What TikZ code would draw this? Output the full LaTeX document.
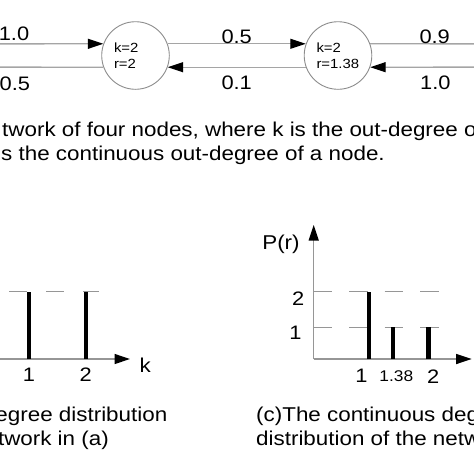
\documentclass[tikz,border=0pt]{standalone}
\usepackage{fontspec}
\setmainfont{Liberation Sans}[FakeStretch=1.12]
\usetikzlibrary{arrows.meta}
\definecolor{edgegray}{RGB}{165,165,165}
\definecolor{circgray}{RGB}{140,140,140}
\definecolor{axisgray}{RGB}{150,150,150}

\begin{document}
\begin{tikzpicture}[x=1pt, y=-1pt,
    tip/.style={-{Triangle[length=15.5pt,width=10pt,color=black]}},
    link/.style={draw=edgegray, line width=1.3pt},
    vertex/.style={circle, draw=circgray, line width=0.9pt, minimum size=67.6pt,
      inner sep=0pt, align=left, text width=43pt, font=\fontsize{13.3}{15.7}\selectfont},
    lbl/.style={inner sep=0pt, font=\fontsize{19.5}{23}\selectfont},
    captext/.style={inner sep=0pt, font=\fontsize{20}{24}\selectfont},
    axis/.style={draw=axisgray, line width=1.3pt},
    bar/.style={draw=black, line width=4.3pt},
    level/.style={draw=axisgray, line width=1.3pt}]
  \useasboundingbox (0,0) rectangle (474,474);

  % (a) the network: two inner nodes, outer nodes lie off the page
  \node[vertex] (n2) at (135.5,55.5) {k=2\\r=2};
  \node[vertex] (n3) at (338,55.5) {k=2\\r=1.38};
  \coordinate (w1) at (-5,43.9);
  \coordinate (w2) at (-5,67.1);
  \coordinate (e1) at (480,43.9);
  \coordinate (e2) at (480,67.1);
  \draw[link, tip] (w1) -- (n2.160);
  \draw[link] (n2.200) -- (w2);
  \draw[link, tip] (n2.20) -- (n3.160);
  \draw[link, tip] (n3.200) -- (n2.340);
  \draw[link] (n3.20) -- (e1);
  \draw[link, tip] (e2) -- (n3.340);
  % weights
  \node[lbl, anchor=base east] (w12) at (29.4,40.7) {1.0};
  \node[lbl, anchor=base east] (w21) at (30.2,90) {0.5};
  \node[lbl, anchor=base] (w23) at (236.7,43.3) {0.5};
  \node[lbl, anchor=base] (w32) at (236.7,89.3) {0.1};
  \node[lbl, anchor=base] (w34) at (434.7,43.3) {0.9};
  \node[lbl, anchor=base] (w43) at (435.3,89.3) {1.0};
  % caption (a)
  \node[captext, anchor=base west] (capa1) at (2,136) {twork of four nodes, where k is the out-degree o};
  \node[captext, anchor=base west] (capa2) at (1,160.7) {s the continuous out-degree of a node.};

  % (b) degree distribution
  \draw[axis, tip] (-5,359) -- (130,359);
  \draw[level, dash pattern=on 18pt off 19pt] (-28,291.7) -- (99,291.7);
  \draw[bar] (29,359) -- (29,291.7);
  \draw[bar] (85.7,359) -- (85.7,291.7);
  \node[lbl, anchor=base] (kb1) at (29,381.7) {1};
  \node[lbl, anchor=base] (kb2) at (85.7,381.7) {2};
  \node[captext, anchor=base] (kx) at (145.3,372.7) {k};
  \node[captext, anchor=base east] (capb1) at (167.5,421.5) {egree distribution};
  \node[captext, anchor=base east] (capb2) at (109,445) {twork in (a)};

  % (c) continuous degree distribution
  \draw[axis, tip] (313.7,359) -- (313.7,225);
  \draw[axis, tip] (313.7,359) -- (471.7,359);
  \draw[level, dash pattern=on 18.5pt off 17pt] (313.7,291.7) -- (439,291.7);
  \draw[level, dash pattern=on 18.5pt off 17pt] (313.7,327.3) -- (439,327.3);
  \draw[bar] (368.8,359) -- (368.8,291.7);
  \draw[bar] (393.3,359) -- (393.3,327.3);
  \draw[bar] (428.5,359) -- (428.5,327.3);
  \node[captext, anchor=base] (py) at (281,249.5) {P(r)};
  \node[lbl, anchor=base] (pc2) at (298.3,305) {2};
  \node[lbl, anchor=base] (pc1) at (295.5,339.3) {1};
  \node[lbl, anchor=base] (rc1) at (361.5,382.7) {1};
  \node[inner sep=0pt, anchor=base, font=\fontsize{15.5}{18}\selectfont] (rc138) at (396.3,381.5) {1.38};
  \node[lbl, anchor=base] (rc2) at (433.2,383) {2};
  \node[captext, anchor=base west] (capc1) at (256,421) {(c)The continuous deg};
  \node[captext, anchor=base west] (capc2) at (256,445) {distribution of the netw};
\end{tikzpicture}
\end{document}
